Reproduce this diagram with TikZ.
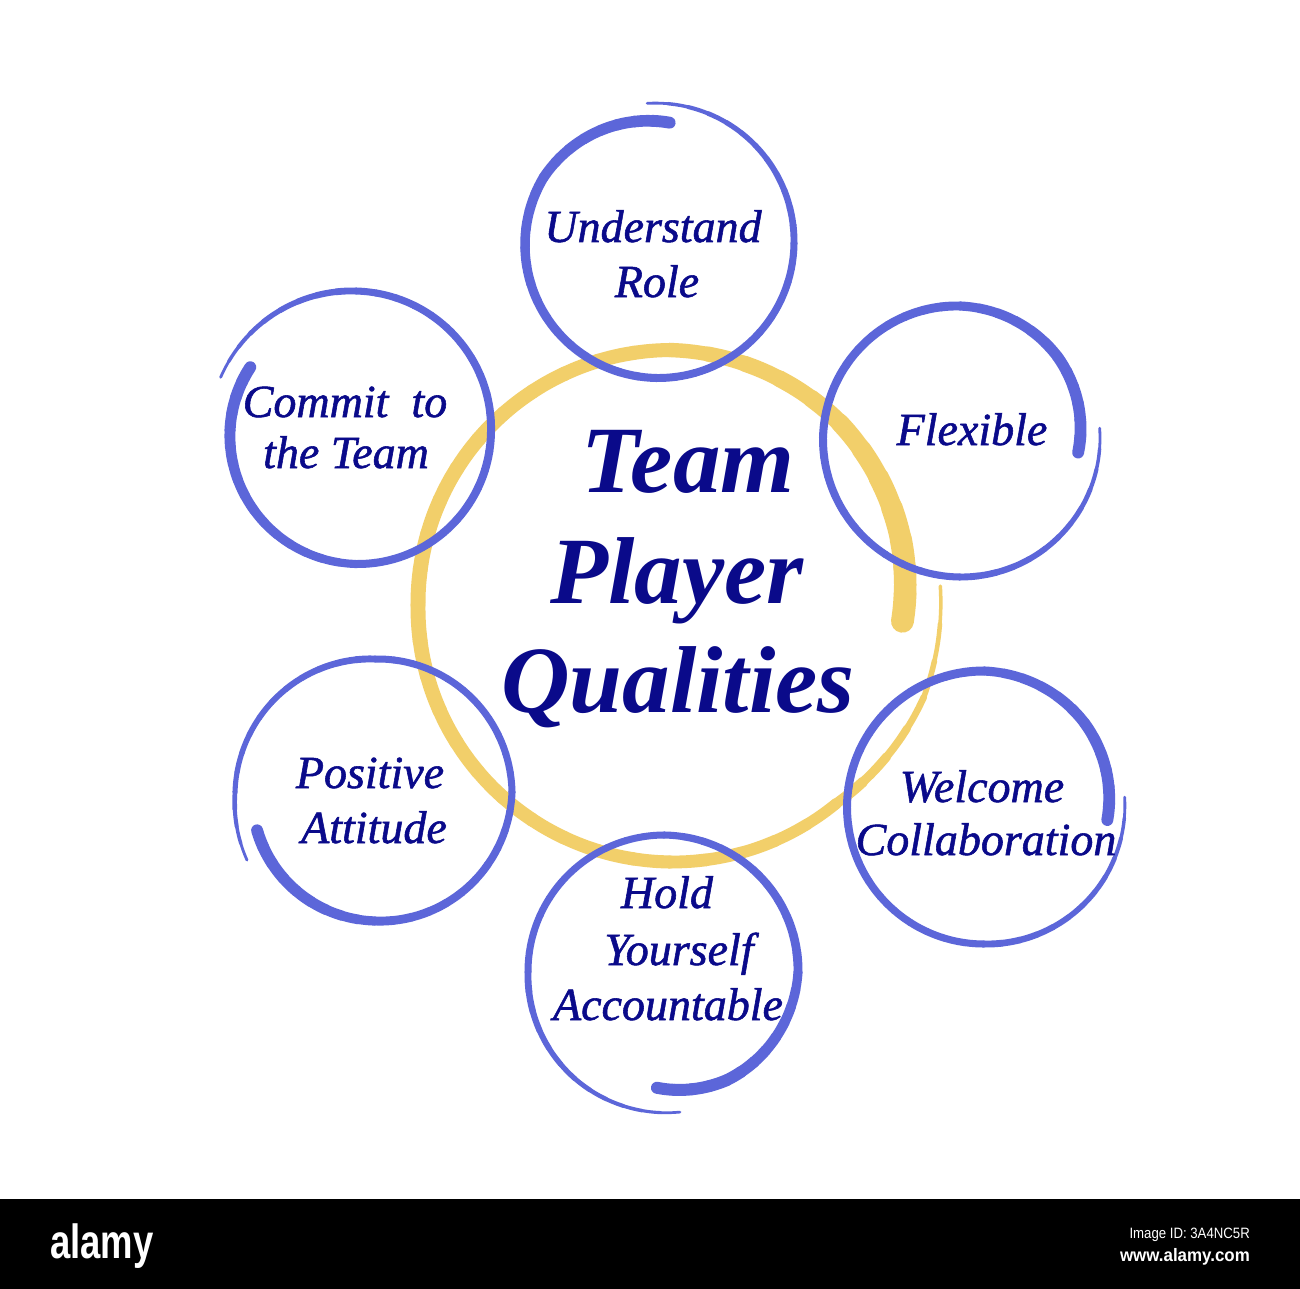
\documentclass[tikz,border=0pt]{standalone}
\usepackage{fontspec}
\usepackage{graphicx}
\setmainfont{Liberation Serif}
\newfontfamily\lblfont{Liberation Serif}[FakeBold=1.2]
\newfontfamily\wmfont{Liberation Sans}
\definecolor{ringblue}{HTML}{5C66D9}
\definecolor{ringyellow}{HTML}{F2CF6A}
\definecolor{navytext}{HTML}{0A0A8A}
% brush segment: cx cy a1 a2 r1 r2 w1 w2 (screen coords, y down)
\newcommand\brushseg[8]{%
  \pgfmathtruncatemacro\nseg{max(1,round(abs((#4)-(#3))/8))}%
  \foreach \kk in {1,...,\nseg}{%
    \pgfmathsetmacro\ta{(\kk-1)/\nseg}%
    \pgfmathsetmacro\tb{\kk/\nseg}%
    \pgfmathsetmacro\wd{(#7)+((#8)-(#7))*(\kk-0.5)/\nseg}%
    \draw[line width=\wd pt] plot[smooth, domain=\ta:\tb, samples=4, variable=\tp]
      ({(#1)+((#5)+((#6)-(#5))*\tp)*cos((#3)+((#4)-(#3))*\tp)},
       {(#2)+((#5)+((#6)-(#5))*\tp)*sin((#3)+((#4)-(#3))*\tp)});
  }%
}
\begin{document}
\begin{tikzpicture}[x=1pt,y=-1pt,
  lbl/.style={font=\lblfont\itshape\fontsize{46}{52}\selectfont, text=navytext, inner sep=0pt, anchor=base},
  ttl/.style={font=\bfseries\itshape\fontsize{95}{110}\selectfont, text=navytext, inner sep=0pt, anchor=base},
  wm/.style={text=white, inner sep=0pt}]
\fill[white] (0,0) rectangle (1300,1289);
\useasboundingbox (0,0) rectangle (1300,1289);

% central yellow ring
\begin{scope}[color=ringyellow, line cap=round]
\brushseg{670}{605}{-4}{20}{271}{270}{3}{6}
\brushseg{670}{605}{20}{50}{270}{259}{6}{11}
\brushseg{670}{605}{50}{90}{259}{257}{11}{13}
\brushseg{670}{605}{90}{180}{257}{252}{13}{15}
\brushseg{670}{605}{180}{270}{252}{255}{15}{14}
\brushseg{670}{605}{270}{313}{255}{249}{14}{18}
\brushseg{670}{605}{313}{344}{249}{240}{18}{22}
\brushseg{670}{605}{344}{364}{240}{233}{22}{23}
\end{scope}

\begin{scope}[color=ringblue, line cap=round]
% Understand Role
\brushseg{657}{243}{-84}{-150}{121}{131}{12}{10}
\brushseg{657}{243}{-150}{-270}{131}{135}{10}{8}
\brushseg{657}{243}{-270}{-360}{135}{137}{8}{7}
\brushseg{657}{243}{-360}{-420}{137}{139}{7}{5}
\brushseg{657}{243}{-420}{-454}{139}{140}{5}{2.5}
% Commit to the Team
\brushseg{356}{432}{211.5}{150}{124}{128}{12}{10}
\brushseg{356}{432}{150}{90}{128}{132}{10}{8}
\brushseg{356}{432}{90}{0}{132}{135}{8}{8}
\brushseg{356}{432}{0}{-90}{135}{141}{8}{7}
\brushseg{356}{432}{-90}{-130}{141}{144}{7}{5}
\brushseg{356}{432}{-130}{-158}{144}{146}{5}{2.5}
% Flexible
\brushseg{960}{438}{-4}{30}{140}{140}{2.5}{5}
\brushseg{960}{438}{30}{90}{140}{139}{5}{7}
\brushseg{960}{438}{90}{180}{139}{137}{7}{8}
\brushseg{960}{438}{180}{270}{137}{132}{8}{9}
\brushseg{960}{438}{270}{320}{132}{127}{9}{11}
\brushseg{960}{438}{320}{367}{127}{119}{11}{12}
% Positive Attitude
\brushseg{375}{792}{162}{120}{124}{127}{12}{11}
\brushseg{375}{792}{120}{90}{127}{129}{11}{9}
\brushseg{375}{792}{90}{0}{129}{137}{9}{7}
\brushseg{375}{792}{0}{-90}{137}{133}{7}{7}
\brushseg{375}{792}{-90}{-180}{133}{140}{7}{5}
\brushseg{375}{792}{-180}{-208}{140}{145}{5}{2.5}
% Welcome Collaboration
\brushseg{984}{807}{-4}{30}{141}{140}{2.5}{5}
\brushseg{984}{807}{30}{90}{140}{137}{5}{7}
\brushseg{984}{807}{90}{180}{137}{137}{7}{8}
\brushseg{984}{807}{180}{270}{137}{136}{8}{9}
\brushseg{984}{807}{270}{320}{136}{131}{9}{11}
\brushseg{984}{807}{320}{366}{131}{124}{11}{12}
% Hold Yourself Accountable
\brushseg{664}{972}{83.5}{130}{141}{139}{2.5}{5}
\brushseg{664}{972}{130}{180}{139}{136}{5}{7}
\brushseg{664}{972}{180}{270}{136}{137}{7}{7}
\brushseg{664}{972}{270}{360}{137}{134}{7}{9}
\brushseg{664}{972}{360}{420}{134}{125}{9}{12}
\brushseg{664}{972}{420}{453.5}{125}{116}{12}{12}
\end{scope}

% title
\node[ttl] (t1) at (688,492) {Team};
\node[ttl] (t2) at (677,603) {Player};
\node[ttl] (t3) at (678,712) {Qualities};

% labels
\node[lbl] (ur1) at (653,242) {Understand};
\node[lbl] (ur2) at (657,297) {Role};
\node[lbl] (ct1) at (345,417) {Commit\ \ to};
\node[lbl] (ct2) at (346,468) {the Team};
\node[lbl] (fl1) at (972,445) {Flexible};
\node[lbl] (pa1) at (370,788) {Positive};
\node[lbl] (pa2) at (374,843) {Attitude};
\node[lbl] (wc1) at (982,802) {Welcome};
\node[lbl] (wc2) at (986,855) {Collaboration};
\node[lbl] (hy1) at (667,908) {Hold};
\node[lbl] (hy2) at (679,965) {Yourself};
\node[lbl] (hy3) at (668,1020) {Accountable};

% stock bar
\fill[black] (0,1199) rectangle (1300,1289);
\node[wm, anchor=base west, font=\wmfont\bfseries\fontsize{48}{48}\selectfont] (alamy) at (50,1258) {\scalebox{0.76}[1]{alamy}};
\node[wm, anchor=base east, font=\wmfont\fontsize{15}{15}\selectfont] (imgid) at (1250,1238) {\scalebox{0.88}[1]{Image ID: 3A4NC5R}};
\node[wm, anchor=base east, font=\wmfont\bfseries\fontsize{18}{18}\selectfont] (site) at (1250,1261) {\scalebox{0.94}[1]{www.alamy.com}};
\end{tikzpicture}
\end{document}
